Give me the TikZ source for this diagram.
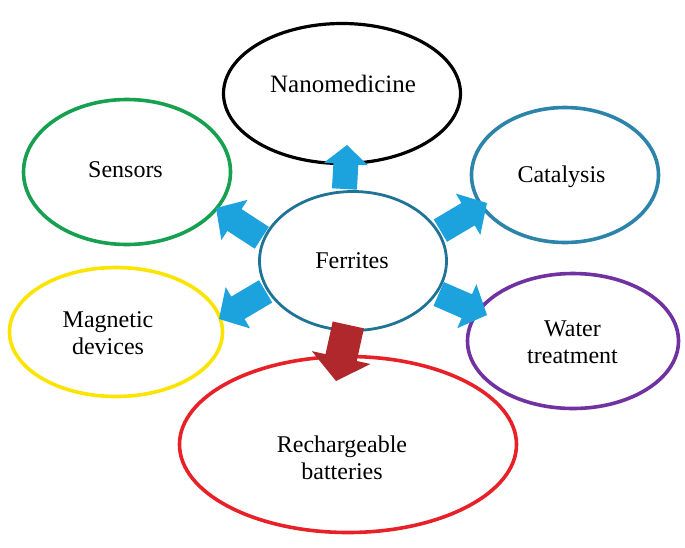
\documentclass[tikz,border=0pt]{standalone}
\usepackage{fontspec}
\setmainfont{Liberation Serif}
\usetikzlibrary{shapes.geometric,calc}
\definecolor{sgreen}{RGB}{22,160,80}
\definecolor{cblue}{RGB}{45,132,170}
\definecolor{fblue}{RGB}{30,115,150}
\definecolor{myellow}{RGB}{250,228,0}
\definecolor{wpurple}{RGB}{112,50,160}
\definecolor{rred}{RGB}{232,32,40}
\definecolor{arrblue}{RGB}{28,163,222}
\definecolor{arrred}{RGB}{176,40,44}
% #1 colour, #2 tail, #3 tip, #4 shaft half width, #5 head half width, #6 head length
\newcommand\myblockarrow[6]{%
  \coordinate (ba-t) at (#2);
  \coordinate (ba-p) at (#3);
  \coordinate (ba-h) at ($(ba-p)!#6!(ba-t)$);
  \fill[#1] ($(ba-t)!#4!90:(ba-p)$) -- ($(ba-h)!#4!-90:(ba-t)$) -- ($(ba-h)!#5!-90:(ba-t)$)
    -- (ba-p) -- ($(ba-h)!#5!90:(ba-t)$) -- ($(ba-h)!#4!90:(ba-t)$) -- ($(ba-t)!#4!-90:(ba-p)$) -- cycle;
}
\begin{document}
\begin{tikzpicture}[x=1pt,y=-1pt,
  ell/.style={ellipse, draw, line width=3.6pt, inner sep=0pt},
  lbl/.style={font=\fontsize{24}{27}\selectfont, inner sep=0pt, anchor=base}]
\fill[white] (0,0) rectangle (685,547);
\useasboundingbox (0,0) rectangle (685,547);
% outer ellipses
\node[ell, draw=black, line width=3.2pt, minimum width=237pt, minimum height=140pt] (nano) at (342,93.5) {};
\node[ell, draw=sgreen, minimum width=207pt, minimum height=145pt] (sens) at (127,172) {};
\node[ell, draw=cblue, minimum width=187pt, minimum height=135pt] (cat) at (565,175) {};
\node[ell, draw=myellow, minimum width=213pt, minimum height=129pt] (mag) at (116,332) {};
\node[ell, draw=wpurple, minimum width=211pt, minimum height=135pt] (wat) at (573,341) {};
\node[ell, draw=rred, minimum width=337pt, minimum height=176pt] (bat) at (348,444.5) {};
% centre ellipse
\node[ell, draw=fblue, fill=white, line width=2.8pt, minimum width=187pt, minimum height=139pt] (fer) at (353,261) {};
% labels
\node[lbl, font=\fontsize{25}{28}\selectfont] (tnano) at (343,92) {Nanomedicine};
\node[lbl] (tsens) at (125.5,177) {Sensors};
\node[lbl] (tcat) at (561.5,182) {Catalysis};
\node[lbl] (tfer) at (352,268) {Ferrites};
\node[lbl] (tmag) at (108,327) {\begin{tabular}[t]{@{}c@{}}Magnetic\\devices\end{tabular}};
\node[lbl] (twat) at (572.5,336) {\begin{tabular}[t]{@{}c@{}}Water\\treatment\end{tabular}};
\node[lbl] (tbat) at (342,452) {\begin{tabular}[t]{@{}c@{}}Rechargeable\\batteries\end{tabular}};
% arrow tips
\coordinate (pnano) at (347,145);
\coordinate (psens) at (216,208);
\coordinate (pcat) at (487,203);
\coordinate (pmag) at (219,319);
\coordinate (pwat) at (487,315);
\coordinate (pbat) at (336,381);
% arrows
\myblockarrow{arrblue}{$(fer.97)!1.4pt!(pnano)$}{pnano}{12.5pt}{22pt}{19pt}
\myblockarrow{arrblue}{$(fer.166)!1.4pt!(psens)$}{psens}{13pt}{24pt}{22pt}
\myblockarrow{arrblue}{$(fer.19)!1.4pt!(pcat)$}{pcat}{13pt}{24pt}{22pt}
\myblockarrow{arrblue}{$(fer.199)!1.4pt!(pmag)$}{pmag}{13pt}{24pt}{22pt}
\myblockarrow{arrblue}{$(fer.339)!1.4pt!(pwat)$}{pwat}{13pt}{24pt}{22pt}
\myblockarrow{arrred}{$(fer.265)!-7pt!(pbat)$}{pbat}{16pt}{30pt}{24pt}
\end{tikzpicture}
\end{document}
